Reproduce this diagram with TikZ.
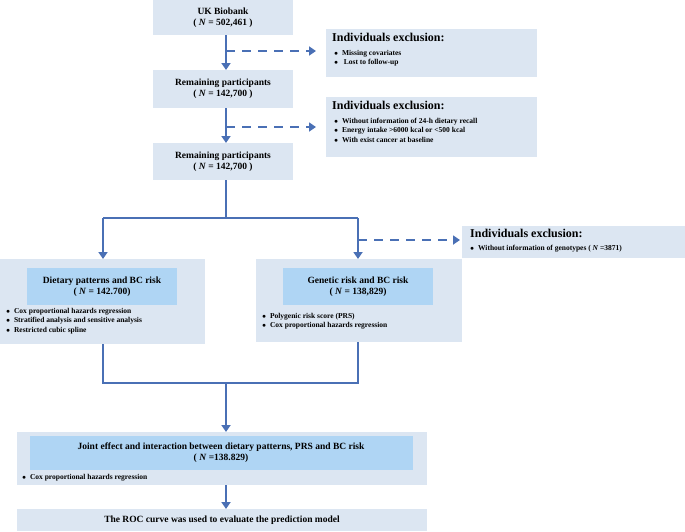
\documentclass[tikz,border=0pt]{standalone}
\usepackage{fontspec}
\setmainfont{Liberation Serif}
\usetikzlibrary{arrows.meta}
\definecolor{boxc}{HTML}{DCE6F2}
\definecolor{innc}{HTML}{AFD5F4}
\definecolor{linec}{HTML}{4A70B5}
\begin{document}
\begin{tikzpicture}[x=1pt,y=-1pt,font=\bfseries,
  box/.style={fill=boxc,draw=none},
  inn/.style={fill=innc,draw=none},
  ln/.style={draw=linec,line width=2.2pt},
  arr/.style={ln,-{Triangle[length=7pt,width=9pt]}},
  dsh/.style={ln,dash pattern=on 9pt off 7pt,-{Triangle[length=7pt,width=9pt]}},
  txt/.style={inner sep=0pt,align=center,font=\bfseries\fontsize{9.5}{11}\selectfont},
  lst/.style={inner sep=0pt,align=left,anchor=north west,font=\bfseries\fontsize{7.5}{9.3}\selectfont},
  hd/.style={inner sep=0pt,anchor=north west,font=\bfseries\fontsize{12}{13}\selectfont}]
\useasboundingbox (0,0) rectangle (685,531);
% main column
\fill[box] (153,0) rectangle (293,35);
\node[txt] (uk) at (223,17.5) {UK Biobank\\( \textit{N} = 502,461 )};
\fill[box] (153,70) rectangle (293,108);
\node[txt] (r1) at (223,89) {Remaining participants\\( \textit{N} = 142,700 )};
\fill[box] (153,143) rectangle (293,180);
\node[txt] (r2) at (223,161.5) {Remaining participants\\( \textit{N} = 142,700 )};
% exclusions
\fill[box] (326,29) rectangle (537,77);
\node[hd] (e1) at (332,33) {Individuals exclusion:};
\node[lst] (e1l) at (334,50) {$\bullet$\enspace Missing covariates\\$\bullet$\enspace\ Lost to follow-up};
\fill[box] (326,97) rectangle (537,157);
\node[hd] (e2) at (332,101) {Individuals exclusion:};
\node[lst] (e2l) at (334,118) {$\bullet$\enspace Without information of 24-h dietary recall\\$\bullet$\enspace Energy intake >6000 kcal or <500 kcal\\$\bullet$\enspace With exist cancer at baseline};
\fill[box] (462,226) rectangle (685,258);
\node[hd] (e3) at (470,229) {Individuals exclusion:};
\node[lst] (e3l) at (470,245) {$\bullet$\enspace Without information of genotypes ( \textit{N} =3871)};
% left/right analyses
\fill[box] (0,259) rectangle (205,344);
\fill[inn] (27,268) rectangle (177,305);
\node[txt] (lt) at (102,286.5) {Dietary patterns and BC risk\\( \textit{N} = 142.700)};
\node[lst] (ll) at (6,308) {$\bullet$\enspace Cox proportional hazards regression\\$\bullet$\enspace Stratified analysis and sensitive analysis\\$\bullet$\enspace Restricted cubic spline};
\fill[box] (256,259) rectangle (462,342);
\fill[inn] (283,268) rectangle (433,305);
\node[txt] (rt) at (358,286.5) {Genetic risk and BC risk\\( \textit{N} = 138,829)};
\node[lst] (rl) at (262,313) {$\bullet$\enspace Polygenic risk score (PRS)\\$\bullet$\enspace Cox proportional hazards regression};
% joint
\fill[box] (17,432) rectangle (427,485);
\fill[inn] (30,436) rectangle (413,470);
\node[txt] (jt) at (221,453) {Joint effect and interaction between dietary patterns, PRS and BC risk\\( \textit{N} =138.829)};
\node[lst] (jl) at (22,474) {$\bullet$\enspace Cox proportional hazards regression};
\fill[box] (17,509) rectangle (427,531);
\node[txt] (roc) at (222,520) {The ROC curve was used to evaluate the prediction model};
% connectors
\coordinate (a0) at (226,35); \coordinate (a1) at (226,70);
\coordinate (b0) at (226,108); \coordinate (b1) at (226,143);
\draw[arr] (a0) -- (a1);
\draw[arr] (b0) -- (b1);
\coordinate (d1) at (226,51); \coordinate (d1e) at (316,51);
\coordinate (d2) at (226,127); \coordinate (d2e) at (316,127);
\draw[dsh] (d1) -- (d1e);
\draw[dsh] (d2) -- (d2e);
\coordinate (c0) at (226,180); \coordinate (c1) at (226,218);
\coordinate (cl) at (103,218); \coordinate (cr) at (358,218);
\coordinate (clb) at (103,259); \coordinate (crb) at (358,259);
\draw[ln] (c0) -- (c1);
\draw[ln] (cl) -- (cr);
\draw[arr] (cl) -- (clb);
\draw[arr] (cr) -- (crb);
\coordinate (d3) at (358,240); \coordinate (d3e) at (460,240);
\draw[dsh] (d3) -- (d3e);
\coordinate (l0) at (103,344); \coordinate (l1) at (103,383);
\coordinate (r0) at (358,342); \coordinate (r1b) at (358,383);
\coordinate (m0) at (226,383); \coordinate (m1) at (226,432);
\draw[ln] (l0) -- (l1) -- (r1b) -- (r0);
\draw[arr] (m0) -- (m1);
\coordinate (n0) at (226,485); \coordinate (n1) at (226,509);
\draw[arr] (n0) -- (n1);
\end{tikzpicture}
\end{document}
